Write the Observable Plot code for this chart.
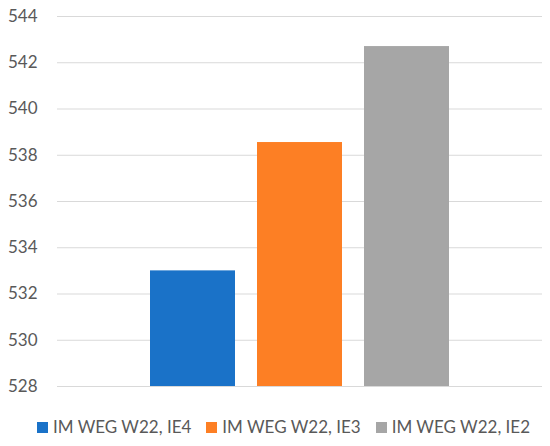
<!DOCTYPE html>
<html>
<head>
<meta charset="utf-8">
<script src="https://cdn.jsdelivr.net/npm/d3@7"></script>
<script src="https://cdn.jsdelivr.net/npm/@observablehq/plot@0.6"></script>
<style>
  html, body { margin: 0; padding: 0; background: #fff; }
  #wrap { position: relative; width: 550px; height: 446px; overflow: hidden; font-family: Lato, "Open Sans", sans-serif; }
  #legend { position: absolute; left: 37px; top: 417px; display: flex; align-items: center; white-space: nowrap; font-size: 17px; color: #595959; line-height: 20px; }
  #legend .item { display: flex; align-items: center; margin-right: 15px; }
  #legend .sw { width: 11px; height: 11px; margin-right: 5px; display: inline-block; }
</style>
</head>
<body>
<div id="wrap"></div>
<script>
const series = ["IM WEG W22, IE4", "IM WEG W22, IE3", "IM WEG W22, IE2"];
const values = [533.0, 538.55, 542.7];
const yTicks = [528, 530, 532, 534, 536, 538, 540, 542, 544];
const colors = ["#1a72c8", "#fd7f24", "#a6a6a6"];

const data = series.map((s, i) => ({series: s, value: values[i]}));
const yMin = yTicks[0], yMax = yTicks[yTicks.length - 1];

const plot = Plot.plot({
  width: 550,
  height: 405,
  marginTop: 16,
  marginBottom: 19,
  marginLeft: 57,
  marginRight: 8,
  style: {fontFamily: "Lato, 'Open Sans', sans-serif", fontSize: "17px", background: "#fff"},
  x: {domain: series, range: [149, 449], paddingInner: 0.21, paddingOuter: 0, axis: null},
  y: {domain: [yMin, yMax], label: null},
  color: {domain: series, range: colors},
  marks: [
    Plot.gridY(yTicks, {stroke: "#d9d9d9", strokeOpacity: 1, strokeWidth: 1}),
    Plot.axisY(yTicks, {tickSize: 0, tickPadding: 20, fill: "#595959", fontSize: 17, label: null}),
    Plot.barY(data, {x: "series", y1: () => yMin, y2: "value", fill: "series"})
  ]
});

const wrap = document.getElementById("wrap");
wrap.appendChild(plot);

const color = plot.scale("color");
const legend = document.createElement("div");
legend.id = "legend";
series.forEach((s) => {
  const item = document.createElement("span");
  item.className = "item";
  const sw = document.createElement("span");
  sw.className = "sw";
  sw.style.background = color.apply(s);
  const t = document.createElement("span");
  t.textContent = s;
  item.appendChild(sw);
  item.appendChild(t);
  legend.appendChild(item);
});
wrap.appendChild(legend);
</script>
</body>
</html>
